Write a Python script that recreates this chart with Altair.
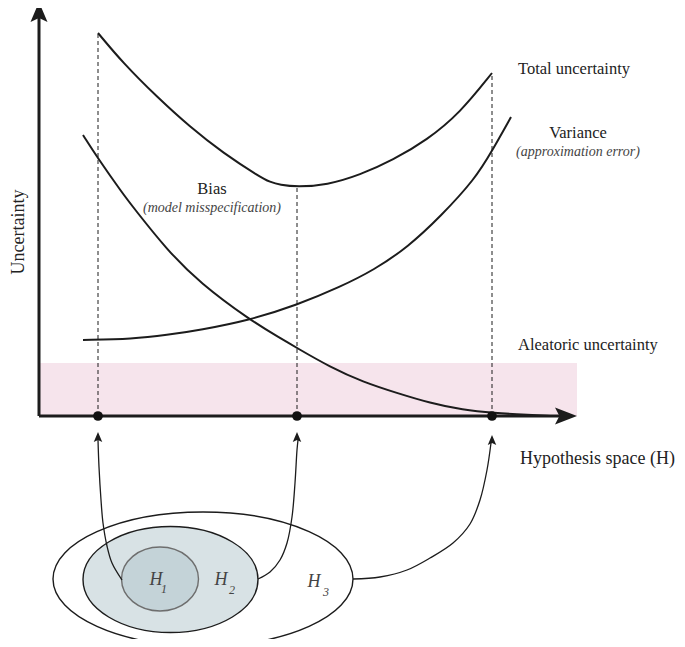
import altair as alt
import pandas as pd

# ---------------- data (x: hypothesis space, y: uncertainty; origin at axes crossing) ----------
H_LABELS = ["H", "H", "H"]
H_SUBS = ["1", "2", "3"]
H_X = [59, 258, 453]            # positions of H1, H2, H3 on the hypothesis axis
H_TOTAL = [384, 229, 342]       # total uncertainty reached at each H

total_x = [59, 84, 118, 151, 184, 221, 231, 241, 258, 288, 321, 354, 388, 421, 453]
total_y = [383, 353, 319, 289, 263, 239, 234, 231, 229, 231, 241, 256, 276, 303, 343]

variance_x = [44, 94, 128, 161, 211, 258, 301, 335, 369, 402, 436, 453, 472]
variance_y = [76, 77, 81, 86, 96, 111, 129, 146, 169, 200, 237, 265, 299]

bias_x = [44, 58, 84, 94, 128, 161, 211, 241, 258, 291, 324, 358, 391, 424, 454, 491, 511]
bias_y = [281, 259, 222, 209, 166, 133, 96, 78, 68, 49, 34, 23, 13, 6, 3, 1, 0]

aleatoric_x = [0, 538]
aleatoric_y = [0, 53]

# nested hypothesis spaces (centre x, centre y)
set_names = ["H3", "H2", "H1"]
set_cx = [164, 131.5, 121]
set_cy = [-163, -163.5, -163]

# curved arrows from the sets to their points on the axis
arrow1_x = [83, 73, 68, 64, 62, 60, 59]
arrow1_y = [-164, -147, -130, -107, -84, -51, -24]
arrow2_x = [219, 231, 241, 248, 253, 256, 258, 259]
arrow2_y = [-163, -156, -144, -127, -101, -67, -34, -24]
arrow3_x = [314, 341, 368, 391, 414, 431, 441, 448, 452]
arrow3_y = [-163, -161, -154, -142, -127, -108, -84, -54, -27]

# ---------------- scales ----------------
XS = alt.Scale(domain=[-31, 638], nice=False, zero=False)
YS = alt.Scale(domain=[-223, 408], nice=False, zero=False)
X = lambda f="x": alt.X(f"{f}:Q", scale=XS, axis=None)
Y = lambda f="y": alt.Y(f"{f}:Q", scale=YS, axis=None)
FONT = "Liberation Serif, Times New Roman, DejaVu Serif, serif"
INK = "#1c1c1c"

layers = []

# aleatoric band
band = pd.DataFrame({"x": [aleatoric_x[0]], "x2": [aleatoric_x[1]],
                     "y": [aleatoric_y[0]], "y2": [aleatoric_y[1]]})
layers.append(alt.Chart(band).mark_rect(color="#f6e4ec").encode(
    x=X(), x2="x2:Q", y=Y(), y2="y2:Q"))

# dashed guides
guides = pd.DataFrame({"x": H_X, "y": [0, 0, 0], "y2": H_TOTAL})
layers.append(alt.Chart(guides).mark_rule(color=INK, strokeWidth=1, strokeDash=[4, 3]).encode(
    x=X(), y=Y(), y2="y2:Q"))

# curves
curves = pd.concat([
    pd.DataFrame({"x": total_x, "y": total_y, "s": "total"}),
    pd.DataFrame({"x": variance_x, "y": variance_y, "s": "variance"}),
    pd.DataFrame({"x": bias_x, "y": bias_y, "s": "bias"}),
])
layers.append(alt.Chart(curves).mark_line(color=INK, strokeWidth=2, interpolate="basis").encode(
    x=X(), y=Y(), detail="s:N"))

# axes
axes = pd.DataFrame({"x": [0, 0], "y": [0, 0], "x2": [0, 527], "y2": [398, 0]})
layers.append(alt.Chart(axes).mark_rule(color=INK, strokeWidth=3).encode(
    x=X(), y=Y(), x2="x2:Q", y2="y2:Q"))
layers.append(alt.Chart(pd.DataFrame({"x": [0], "y": [404]})).mark_point(
    shape="M0,-1L0.85,1L0,0.6L-0.85,1Z", size=400, filled=True, color=INK, opacity=1).encode(x=X(), y=Y()))
layers.append(alt.Chart(pd.DataFrame({"x": [527], "y": [0]})).mark_point(
    shape="M1,0L-1,0.77L-0.6,0L-1,-0.77Z", size=484, filled=True, color=INK, opacity=1).encode(x=X(), y=Y()))

# points on axis
layers.append(alt.Chart(pd.DataFrame({"x": H_X, "y": [0, 0, 0]})).mark_circle(
    size=95, color="#111", opacity=1).encode(x=X(), y=Y()))

# nested sets (ellipses)
sets = pd.DataFrame({"name": set_names, "x": set_cx, "y": set_cy})
ell = lambda a: f"M-1,0A1,{a},0,1,1,1,0A1,{a},0,1,1,-1,0Z"
layers.append(alt.Chart(sets[sets.name == "H3"]).mark_point(
    shape=ell(0.447), size=300 ** 2, filled=True, fill="white", stroke=INK, strokeWidth=1.4,
    opacity=1, fillOpacity=1).encode(x=X(), y=Y()))
layers.append(alt.Chart(sets[sets.name == "H2"]).mark_point(
    shape=ell(0.606), size=175 ** 2, filled=True, fill="#d8e2e5", stroke=INK, strokeWidth=1.4,
    opacity=1, fillOpacity=1).encode(x=X(), y=Y()))
layers.append(alt.Chart(sets[sets.name == "H1"]).mark_point(
    shape=ell(0.83), size=77 ** 2, filled=True, fill="#c4d3d8", stroke="#6e6e6e", strokeWidth=1.4,
    opacity=1, fillOpacity=1).encode(x=X(), y=Y()))

# curved arrows
arrows = pd.concat([
    pd.DataFrame({"x": arrow1_x, "y": arrow1_y, "a": "a1", "i": range(len(arrow1_x))}),
    pd.DataFrame({"x": arrow2_x, "y": arrow2_y, "a": "a2", "i": range(len(arrow2_x))}),
    pd.DataFrame({"x": arrow3_x, "y": arrow3_y, "a": "a3", "i": range(len(arrow3_x))}),
])
layers.append(alt.Chart(arrows).mark_line(color=INK, strokeWidth=1.3, interpolate="catmull-rom").encode(
    x=X(), y=Y(), detail="a:N", order="i:Q"))
heads = pd.DataFrame({"x": H_X, "y": [-21, -21, -24]})
layers.append(alt.Chart(heads).mark_point(
    shape="M0,-1L0.85,1L0,0.6L-0.85,1Z", size=100, filled=True, color=INK, opacity=1).encode(x=X(), y=Y()))

# text labels
left_txt = pd.DataFrame({"t": ["Total uncertainty", "Aleatoric uncertainty"],
                         "x": [479, 479], "y": [347, 71]})
layers.append(alt.Chart(left_txt).mark_text(font=FONT, fontSize=16.5, align="left", baseline="middle",
                                            color="#222").encode(x=X(), y=Y(), text="t:N"))
layers.append(alt.Chart(pd.DataFrame({"t": ["Hypothesis space (H)"], "x": [481], "y": [-43]})).mark_text(
    font=FONT, fontSize=18, align="left", baseline="middle", color="#222").encode(x=X(), y=Y(), text="t:N"))
center_txt = pd.DataFrame({"t": ["Variance", "Bias"], "x": [539, 173], "y": [283, 227]})
layers.append(alt.Chart(center_txt).mark_text(font=FONT, fontSize=16.5, align="center", baseline="middle",
                                              color="#222").encode(x=X(), y=Y(), text="t:N"))
ital_txt = pd.DataFrame({"t": ["(approximation error)", "(model misspecification)"],
                         "x": [539, 173], "y": [264, 208]})
layers.append(alt.Chart(ital_txt).mark_text(font=FONT, fontSize=14, fontStyle="italic", align="center",
                                            baseline="middle", color="#444").encode(x=X(), y=Y(), text="t:N"))
layers.append(alt.Chart(pd.DataFrame({"t": ["Uncertainty"], "x": [-15], "y": [184]})).mark_text(
    font=FONT, fontSize=18, angle=270, align="center", baseline="alphabetic", color="#222").encode(
    x=X(), y=Y(), text="t:N"))

hl = pd.DataFrame({"t": H_LABELS, "x": [117, 182, 275], "y": [-164, -164, -166]})
layers.append(alt.Chart(hl).mark_text(font=FONT, fontSize=18, fontStyle="italic", align="center",
                                      baseline="middle", color="#444").encode(x=X(), y=Y(), text="t:N"))
hs = pd.DataFrame({"t": H_SUBS, "x": [125, 193, 287], "y": [-173, -174, -176]})
layers.append(alt.Chart(hs).mark_text(font=FONT, fontSize=12, fontStyle="italic", align="center",
                                      baseline="middle", color="#444").encode(x=X(), y=Y(), text="t:N"))

chart = alt.layer(*layers).properties(
    width=669, height=631, padding=0,
    autosize=alt.AutoSizeParams(type="none"),
).configure_view(stroke=None)

chart.save("out.html", embed_options={"renderer": "svg", "actions": False})
